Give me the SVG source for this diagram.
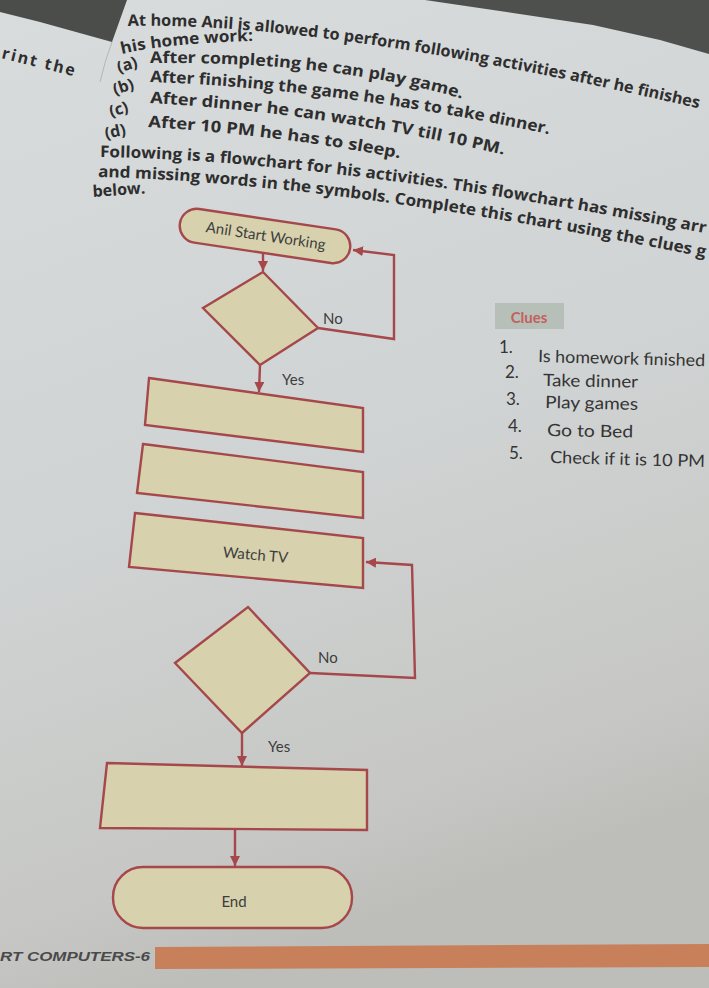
<svg xmlns="http://www.w3.org/2000/svg" width="709" height="988" viewBox="0 0 709 988">
<defs>
<style>
.hdr{font-family:"Open Sans",Lato,"DejaVu Sans",sans-serif;font-weight:700;fill:#2e2e2e;font-size:16px}
.node{fill:#d7d1ad;stroke:#a5474b;stroke-width:2.4}
.edge{fill:none;stroke:#a5474b;stroke-width:2.4}
.lbl{font-family:Lato,"Open Sans",sans-serif;fill:#3d3d3d;font-size:15px}
.clue{font-family:Lato,"Open Sans",sans-serif;fill:#343434;font-size:17px}
</style>
<linearGradient id="pg" x1="0" y1="0" x2="0.25" y2="1">
<stop offset="0" stop-color="#d8dcdd"/>
<stop offset="0.55" stop-color="#d0d3d3"/>
<stop offset="0.9" stop-color="#c6c7c4"/>
<stop offset="1" stop-color="#bdbdba"/>
</linearGradient>
<marker id="ah" viewBox="0 0 10 10" refX="10" refY="5" markerWidth="4.2" markerHeight="4.2" orient="auto">
<path d="M0,0 L10,5 L0,10 z" fill="#a5474b"/>
</marker>
<path id="p1" d="M128,26 Q320,21 697,108 L740,118"/>
<path id="p2" d="M122,54 Q160,44 252,41 L290,40"/>
<path id="pa" d="M150,63 Q330,61 460,98 L490,107"/>
<path id="pb" d="M150,82 Q330,88 548,134 L580,142"/>
<path id="pc" d="M150,103 Q320,112 505,155 L540,164"/>
<path id="pd" d="M148,127 Q280,135 398,158 L430,165"/>
<path id="pf1" d="M100,157 Q330,160 709,234 L760,245"/>
<path id="pf2" d="M98,177 Q330,182 709,258 L760,269"/>
</defs>

<!-- background -->
<rect width="709" height="988" fill="url(#pg)"/>
<polygon points="0,0 127,0 112,42 40,22 0,12" fill="#4b4d4b"/>
<polygon points="425,0 493,10 593,25 660,40 709,54 709,0" fill="#4e504d"/>
<path d="M112,42 Q105,60 100,82" fill="none" stroke="#9a9d9d" stroke-width="1" opacity="0.6"/>

<!-- header text -->
<text class="hdr" font-size="13" transform="translate(1,58) rotate(14)" letter-spacing="2" fill="#3a3a3a">rint  the</text>
<text class="hdr" font-size="15"><textPath href="#p1" textLength="578" lengthAdjust="spacingAndGlyphs">At home Anil is allowed to perform following activities after he finishes</textPath></text>
<text class="hdr" font-size="14.5"><textPath href="#p2" textLength="132" lengthAdjust="spacingAndGlyphs">his home work:</textPath></text>
<text class="hdr" font-size="15" transform="translate(119,73) rotate(-18)">(a)</text>
<text class="hdr" font-size="15" transform="translate(115,95) rotate(-18)">(b)</text>
<text class="hdr" font-size="15" transform="translate(111,117) rotate(-16)">(c)</text>
<text class="hdr" font-size="15" transform="translate(106,139) rotate(-12)">(d)</text>
<text class="hdr" font-size="16.8"><textPath href="#pa" textLength="315" lengthAdjust="spacingAndGlyphs">After completing he can play game.</textPath></text>
<text class="hdr" font-size="16.8"><textPath href="#pb" textLength="403" lengthAdjust="spacingAndGlyphs">After finishing the game he has to take dinner.</textPath></text>
<text class="hdr" font-size="16.8"><textPath href="#pc" textLength="358" lengthAdjust="spacingAndGlyphs">After dinner he can watch TV till 10 PM.</textPath></text>
<text class="hdr" font-size="16.8"><textPath href="#pd" textLength="254" lengthAdjust="spacingAndGlyphs">After 10 PM he has to sleep.</textPath></text>
<text class="hdr" font-size="16"><textPath href="#pf1" textLength="611" lengthAdjust="spacingAndGlyphs">Following is a flowchart for his activities. This flowchart has missing arr</textPath></text>
<text class="hdr" font-size="16"><textPath href="#pf2" textLength="613" lengthAdjust="spacingAndGlyphs">and missing words in the symbols. Complete this chart using the clues g</textPath></text>
<text class="hdr" font-size="16" transform="translate(93,197) rotate(-4)">below.</text>

<!-- clues -->
<g id="clues">
<rect x="495" y="303" width="69" height="26" fill="#b7bfb9"/>
<text x="529" y="323" text-anchor="middle" font-family="Lato,'Open Sans',sans-serif" font-weight="700" font-size="15" fill="#c4605c">Clues</text>
<text class="clue" x="499" y="353">1.</text>
<text class="clue" x="505" y="378">2.</text>
<text class="clue" x="506" y="405">3.</text>
<text class="clue" x="508" y="432">4.</text>
<text class="clue" x="509" y="459">5.</text>
<text class="clue" transform="translate(538,362) rotate(1.5)" textLength="167" lengthAdjust="spacingAndGlyphs">Is homework finished</text>
<text class="clue" transform="translate(543,386) rotate(1)" textLength="95" lengthAdjust="spacingAndGlyphs">Take dinner</text>
<text class="clue" transform="translate(545,408) rotate(1.2)" textLength="93" lengthAdjust="spacingAndGlyphs">Play games</text>
<text class="clue" transform="translate(547,436) rotate(1)" textLength="86" lengthAdjust="spacingAndGlyphs">Go to Bed</text>
<text class="clue" transform="translate(550,463) rotate(1.5)" textLength="155" lengthAdjust="spacingAndGlyphs">Check if it is 10 PM</text>
</g>

<!-- connectors -->
<g id="connectors">
<path class="edge" d="M263,251 L263,271" marker-end="url(#ah)"/>
<path class="edge" d="M318,328 L394,339 L394,255 L353,250" marker-end="url(#ah)"/>
<path class="edge" d="M260,365 L259,392" marker-end="url(#ah)"/>
<path class="edge" d="M310,673 L415,678 L412,565 L366,562" marker-end="url(#ah)"/>
<path class="edge" d="M242,733 L242,766" marker-end="url(#ah)"/>
<path class="edge" d="M235,830 L235,866" marker-end="url(#ah)"/>
<text class="lbl" x="323" y="324" font-size="14">No</text>
<text class="lbl" x="282" y="385">Yes</text>
<text class="lbl" x="318" y="663" font-size="16">No</text>
<text class="lbl" x="268" y="752" font-size="17">Yes</text>
</g>

<!-- nodes -->
<g id="start">
<rect class="node" x="-86" y="-17" width="172" height="34" rx="17" transform="translate(265,236) rotate(8.5)"/>
<text class="lbl" font-size="14" text-anchor="middle" transform="translate(265,241) rotate(8.5)">Anil Start Working</text>
</g>
<g id="decision1">
<polygon class="node" points="263,272 318,328 260,365 203,308"/>
</g>
<g id="process1">
<polygon class="node" points="149,378 363,408 363,452 145,425"/>
</g>
<g id="process2">
<polygon class="node" points="143,444 363,472 363,518 137,493"/>
</g>
<g id="watchtv">
<polygon class="node" points="135,513 363,538 363,588 129,567"/>
<text class="lbl" font-size="17" text-anchor="middle" transform="translate(255,560) rotate(5)">Watch TV</text>
</g>
<g id="decision2">
<polygon class="node" points="248,607 310,673 242,733 175,663"/>
</g>
<g id="process3">
<polygon class="node" points="107,763 367,770 367,830 100,828"/>
</g>
<g id="end">
<rect class="node" x="113" y="867" width="239" height="61" rx="30"/>
<text class="lbl" font-size="20" text-anchor="middle" x="234" y="907" fill="#5a5a4c">End</text>
</g>

<!-- footer -->
<text x="0" y="961" font-family="'Liberation Sans',Arial,sans-serif" font-weight="700" font-style="italic" font-size="12" fill="#4a4a4a" textLength="150" lengthAdjust="spacingAndGlyphs">RT COMPUTERS-6</text>
<polygon points="155,947 709,944 709,967 155,969" fill="#c7805a"/>
</svg>
